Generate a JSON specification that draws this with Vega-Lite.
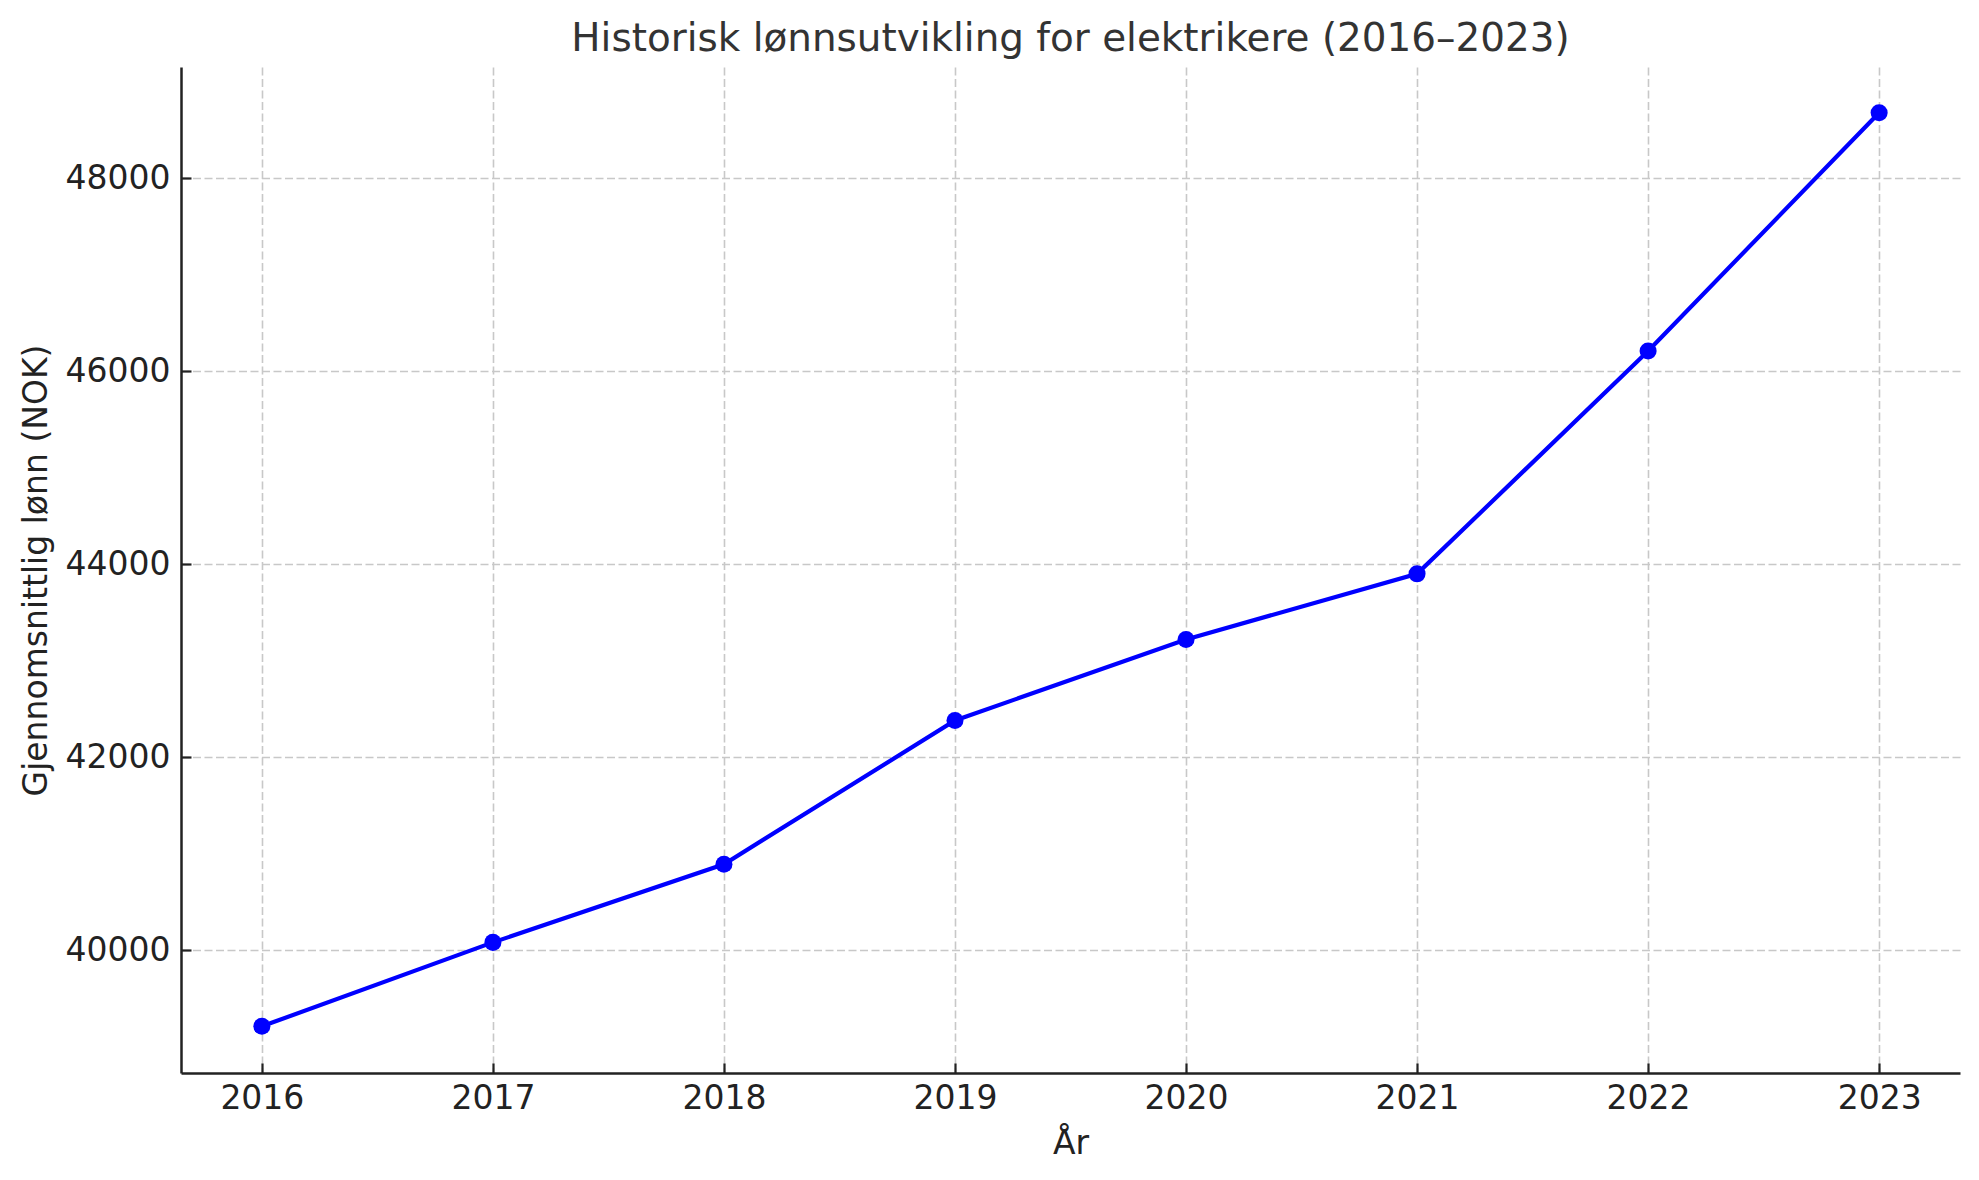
{
  "$schema": "https://vega.github.io/schema/vega-lite/v6.json",
  "autosize": "none",
  "width": 1779,
  "height": 1006,
  "padding": {"left": 181, "top": 67, "right": 19, "bottom": 107},
  "background": "white",
  "config": {
    "font": "DejaVu Sans",
    "view": {"stroke": null},
    "axis": {
      "domainColor": "#222222",
      "domainWidth": 2.5,
      "tickColor": "#222222",
      "tickWidth": 2.2,
      "tickSize": -10,
      "labelFont": "DejaVu Sans",
      "labelFontSize": 33,
      "labelColor": "#222222",
      "titleFont": "DejaVu Sans",
      "titleFontSize": 33,
      "titleFontWeight": "normal",
      "titleColor": "#222222",
      "gridColor": "#c8c8c8",
      "gridWidth": 1.6,
      "gridDash": [8, 3.5]
    }
  },
  "title": {
    "text": "Historisk lønnsutvikling for elektrikere (2016–2023)",
    "font": "DejaVu Sans",
    "fontSize": 38.9,
    "fontWeight": "normal",
    "color": "#333333",
    "anchor": "middle",
    "frame": "group",
    "baseline": "alphabetic",
    "offset": 17,
    "dy": 40
  },
  "data": {
    "values": [
      {"year": 2016, "salary": 39210},
      {"year": 2017, "salary": 40080},
      {"year": 2018, "salary": 40890},
      {"year": 2019, "salary": 42380},
      {"year": 2020, "salary": 43220},
      {"year": 2021, "salary": 43900},
      {"year": 2022, "salary": 46210},
      {"year": 2023, "salary": 48680}
    ]
  },
  "encoding": {
    "x": {
      "field": "year",
      "type": "quantitative",
      "scale": {"domain": [2015.65, 2023.35], "nice": false, "zero": false},
      "axis": {
        "title": "År",
        "values": [2016, 2017, 2018, 2019, 2020, 2021, 2022, 2023],
        "format": "d",
        "grid": true,
        "labelPadding": 19,
        "labelFlush": false,
        "labelOverlap": false,
        "titlePadding": 12
      }
    },
    "y": {
      "field": "salary",
      "type": "quantitative",
      "scale": {"domain": [38726, 49154], "nice": false, "zero": false},
      "axis": {
        "title": "Gjennomsnittlig lønn (NOK)",
        "values": [40000, 42000, 44000, 46000, 48000],
        "format": "d",
        "grid": true,
        "labelPadding": 21,
        "labelFlush": false,
        "labelOverlap": false,
        "titleX": -145,
        "titleY": 503,
        "titleAngle": -90,
        "titleAlign": "center",
        "titleBaseline": "middle"
      }
    }
  },
  "layer": [
    {
      "mark": {"type": "line", "color": "#0000ff", "strokeWidth": 4.2}
    },
    {
      "mark": {"type": "point", "shape": "circle", "filled": true, "color": "#0000ff", "opacity": 1, "size": 290}
    }
  ]
}
